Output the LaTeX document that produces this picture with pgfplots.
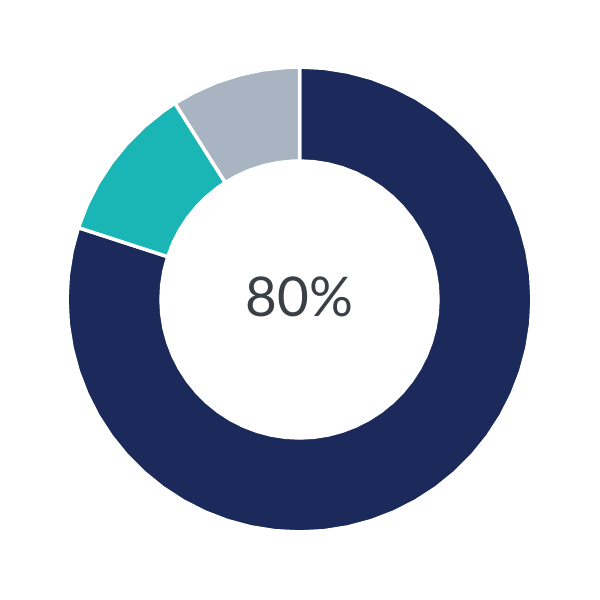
\documentclass[border=0pt]{standalone}
\usepackage{pgfplots}
\pgfplotsset{compat=1.18}
\usepgfplotslibrary{polar}
\usepackage{fontspec}
\setmainfont{Lato}
\definecolor{navy}{HTML}{1B2A5A}
\definecolor{teal2}{HTML}{1AB5B5}
\definecolor{gray2}{HTML}{A8B4C2}
\definecolor{txt}{HTML}{3B3F46}
\begin{document}
\begin{tikzpicture}
\useasboundingbox (0,0) rectangle (600bp,600bp);
\begin{polaraxis}[
  at={(299.5bp,300.5bp)}, anchor=center,
  scale only axis, width=465bp, height=465bp,
  ymin=0, ymax=232.5, xmin=0, xmax=360,
  hide axis, clip=false,
]
% navy 80%
\addplot[fill=navy, draw=white, line width=3.5bp, line join=miter] coordinates {
(90,232.5)(84,232.5)(78,232.5)(72,232.5)(66,232.5)(60,232.5)(54,232.5)(48,232.5)(42,232.5)(36,232.5)
(30,232.5)(24,232.5)(18,232.5)(12,232.5)(6,232.5)(0,232.5)(-6,232.5)(-12,232.5)(-18,232.5)(-24,232.5)
(-30,232.5)(-36,232.5)(-42,232.5)(-48,232.5)(-54,232.5)(-60,232.5)(-66,232.5)(-72,232.5)(-78,232.5)(-84,232.5)
(-90,232.5)(-96,232.5)(-102,232.5)(-108,232.5)(-114,232.5)(-120,232.5)(-126,232.5)(-132,232.5)(-138,232.5)(-144,232.5)
(-150,232.5)(-156,232.5)(-162,232.5)(-168,232.5)(-174,232.5)(-180,232.5)(-186,232.5)(-192,232.5)(-198,232.5)
(-198,138.5)(-192,138.5)(-186,138.5)(-180,138.5)(-174,138.5)(-168,138.5)(-162,138.5)(-156,138.5)(-150,138.5)
(-144,138.5)(-138,138.5)(-132,138.5)(-126,138.5)(-120,138.5)(-114,138.5)(-108,138.5)(-102,138.5)(-96,138.5)(-90,138.5)
(-84,138.5)(-78,138.5)(-72,138.5)(-66,138.5)(-60,138.5)(-54,138.5)(-48,138.5)(-42,138.5)(-36,138.5)(-30,138.5)
(-24,138.5)(-18,138.5)(-12,138.5)(-6,138.5)(0,138.5)(6,138.5)(12,138.5)(18,138.5)(24,138.5)(30,138.5)
(36,138.5)(42,138.5)(48,138.5)(54,138.5)(60,138.5)(66,138.5)(72,138.5)(78,138.5)(84,138.5)(90,138.5)
} -- cycle;
% teal 11%
\addplot[fill=teal2, draw=white, line width=3.5bp, line join=miter] coordinates {
(162,232.5)(156,232.5)(150,232.5)(144,232.5)(138,232.5)(132,232.5)(126,232.5)(122.4,232.5)
(122.4,138.5)(126,138.5)(132,138.5)(138,138.5)(144,138.5)(150,138.5)(156,138.5)(162,138.5)
} -- cycle;
% gray 9%
\addplot[fill=gray2, draw=white, line width=3.5bp, line join=miter] coordinates {
(122.4,232.5)(117,232.5)(111,232.5)(105,232.5)(99,232.5)(93,232.5)(90,232.5)
(90,138.5)(93,138.5)(99,138.5)(105,138.5)(111,138.5)(117,138.5)(122.4,138.5)
} -- cycle;
\node[text=txt, font=\fontsize{55}{60}\selectfont, inner sep=0pt, anchor=center, yshift=3bp] at (axis cs:0,0) {80\%};
\end{polaraxis}
\end{tikzpicture}
\end{document}
